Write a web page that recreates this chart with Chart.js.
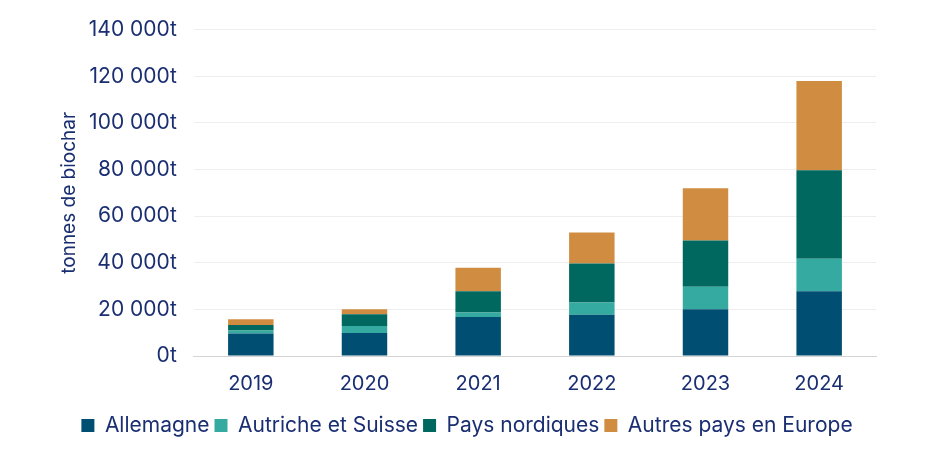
<!DOCTYPE html>
<html>
<head>
<meta charset="utf-8">
<script src="https://cdn.jsdelivr.net/npm/chart.js@4"></script>
<style>
  html, body { margin: 0; padding: 0; background: #fff; }
  #wrap { width: 929px; height: 454px; }
</style>
</head>
<body>
<div id="wrap"><canvas id="biocharChart"></canvas></div>
<script>
// Data
const years = ['2019', '2020', '2021', '2022', '2023', '2024'];
const allemagne = [9600, 9900, 16700, 17700, 20000, 27800];
const autricheSuisse = [1350, 2950, 2000, 5200, 9700, 13900];
const paysNordiques = [2350, 5100, 9100, 16800, 19800, 38000];
const autresEurope = [2500, 2050, 10000, 13300, 22500, 38300];
const yTicks = [0, 20000, 40000, 60000, 80000, 100000, 120000, 140000];

const textColor = '#1a2e72';
Chart.defaults.font.family = 'Inter, "Noto Sans", sans-serif';
Chart.defaults.color = textColor;

const ctx = document.getElementById('biocharChart').getContext('2d');
const biocharChart = new Chart(ctx, {
    type: 'bar',
    data: {
        labels: years,
        datasets: [
            { label: 'Allemagne', data: allemagne, backgroundColor: '#004e72' },
            { label: 'Autriche et Suisse', data: autricheSuisse, backgroundColor: '#35aaa0' },
            { label: 'Pays nordiques', data: paysNordiques, backgroundColor: '#00685f' },
            { label: 'Autres pays en Europe', data: autresEurope, backgroundColor: '#d08d42' }
        ]
    },
    options: {
        responsive: true,
        maintainAspectRatio: false,
        animation: false,
        layout: {
            padding: { left: 58, right: 53, top: 24, bottom: 8 }
        },
        datasets: {
            bar: { barPercentage: 0.8, categoryPercentage: 0.5 }
        },
        plugins: {
            legend: {
                position: 'bottom',
                labels: {
                    boxWidth: 13,
                    boxHeight: 13,
                    padding: 5,
                    font: { size: 21 },
                    color: textColor
                }
            },
            tooltip: { enabled: false }
        },
        scales: {
            x: {
                stacked: true,
                grid: { display: false },
                border: { color: '#d4d4d4', width: 1 },
                // extra space below the labels pushes the plot up without moving the legend
                afterFit: function(axis) { axis.height += 6; },
                ticks: { font: { size: 20 }, padding: 8, color: textColor }
            },
            y: {
                stacked: true,
                min: 0,
                max: 140000,
                afterBuildTicks: function(axis) {
                    axis.ticks = yTicks.map(v => ({ value: v }));
                },
                grid: { color: '#eeeeee', drawTicks: false },
                border: { display: false },
                title: {
                    display: true,
                    text: 'tonnes de biochar',
                    font: { size: 19 },
                    color: textColor,
                    padding: { top: 0, bottom: -9 }
                },
                ticks: {
                    font: { size: 21 },
                    padding: 17,
                    color: textColor,
                    callback: function(value) {
                        return value.toLocaleString('fr-FR').replace(/\s/g, ' ') + 't';
                    }
                }
            }
        }
    }
});
</script>
</body>
</html>
